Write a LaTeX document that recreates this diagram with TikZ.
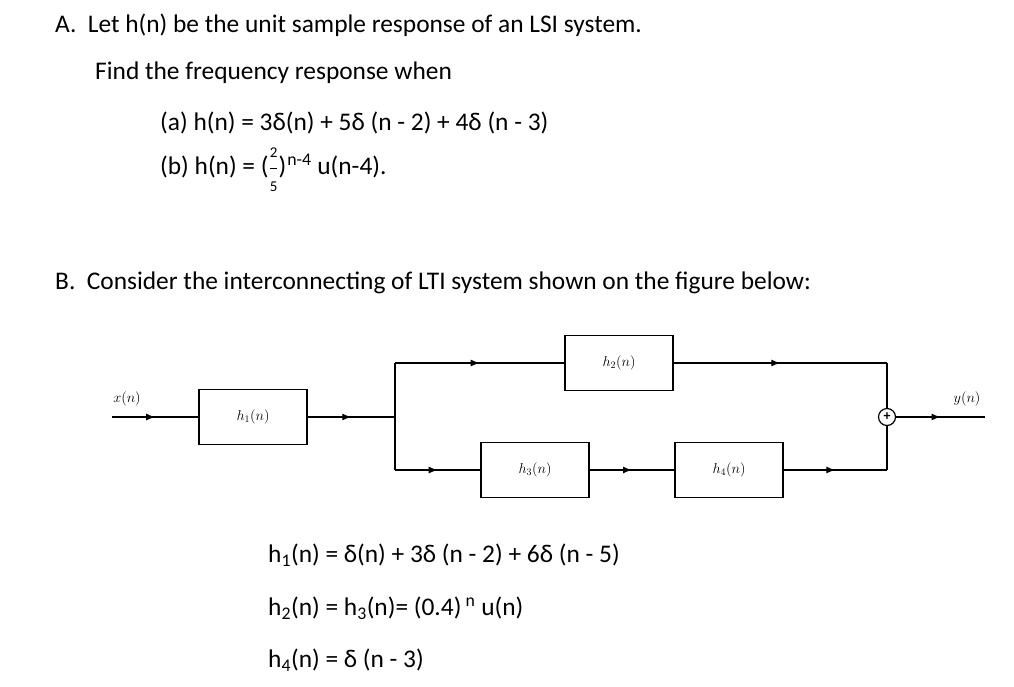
\documentclass[tikz,border=0pt]{standalone}
\usepackage{amsmath}
\usepackage{fontspec}
\setmainfont{Carlito}
\usetikzlibrary{arrows.meta,decorations.markings}
\newcommand{\fr}[1]{\hbox{\fontsize{15}{15}\selectfont #1}}
\tikzset{
 txt/.style={anchor=west,inner sep=0pt,font=\fontsize{25.4}{28}\selectfont},
 blk/.style={draw,line width=1.2pt,minimum width=108pt,minimum height=55pt,font=\fontfamily{lmr}\itshape\fontsize{14}{16}\selectfont},
 sig/.style={line width=1.2pt,postaction={decorate},decoration={markings,mark=at position 0.5 with {\arrow{Latex[length=9pt,width=7pt]}}}},
 wire/.style={line width=1.2pt},
 lbl/.style={font=\fontfamily{lmr}\itshape\fontsize{14}{16}\selectfont,inner sep=1pt}
}
\begin{document}
\begin{tikzpicture}[x=1pt,y=-1pt]
\useasboundingbox (0,0) rectangle (1014,686);
\node[txt] (ta) at (55,25) {A.\ \ Let h(n) be the unit sample response of an LSI system.};
\node[txt] (tf) at (95,73) {Find the frequency response when};
\node[txt] (tqa) at (160,123) {(a) h(n) = 3δ(n) + 5δ (n - 2) + 4δ (n - 3)};
\node[txt] (tqb) at (160,170) {(b) h(n) = ($\genfrac{}{}{0.6pt}{0}{\fr{2}}{\fr{5}}$)\kern1pt\textsuperscript{n-4} u(n-4).};
\node[txt] (tb) at (55,283) {B.\ \ Consider the interconnecting of LTI system shown on the figure below:};
\node[txt] (e1) at (268,555) {h\textsubscript{1}(n) = δ(n) + 3δ (n - 2) + 6δ (n - 5)};
\node[txt] (e2) at (268,608) {h\textsubscript{2}(n) = h\textsubscript{3}(n)= (0.4)\,\textsuperscript{n} u(n)};
\node[txt] (e3) at (268,660) {h\textsubscript{4}(n) = δ (n - 3)};
% diagram
\coordinate (in) at (112,417);
\node[blk] (h1) at (253,417) {$h_1(n)$};
\coordinate (j) at (395,417);
\coordinate (jt) at (395,363);
\coordinate (jb) at (395,470);
\node[blk] (h2) at (619,363) {$h_2(n)$};
\node[blk] (h3) at (535,470) {$h_3(n)$};
\node[blk] (h4) at (729,470) {$h_4(n)$};
\node[draw,circle,line width=1.2pt,minimum size=17pt,inner sep=0pt,font=\fontsize{14}{14}\selectfont\bfseries] (s) at (887,417) {+};
\coordinate (rt) at (887,363);
\coordinate (rb) at (887,470);
\coordinate (out) at (985,417);
\draw[sig] (in) -- (h1.west);
\draw[sig] (h1.east) -- (j);
\draw[wire] (jb) -- (jt);
\draw[sig] (jt) -- (h2.west);
\draw[sig] (jb) -- (h3.west);
\draw[sig] (h3.east) -- (h4.west);
\draw[sig] (h2.east) -- (rt);
\draw[wire] (rt) -- (s.north);
\draw[sig] (h4.east) -- (rb);
\draw[wire] (rb) -- (s.south);
\draw[sig] (s.east) -- (out);
\node[lbl] (xl) at (127,399) {$x(n)$};
\node[lbl] (yl) at (967,399) {$y(n)$};
\end{tikzpicture}
\end{document}
